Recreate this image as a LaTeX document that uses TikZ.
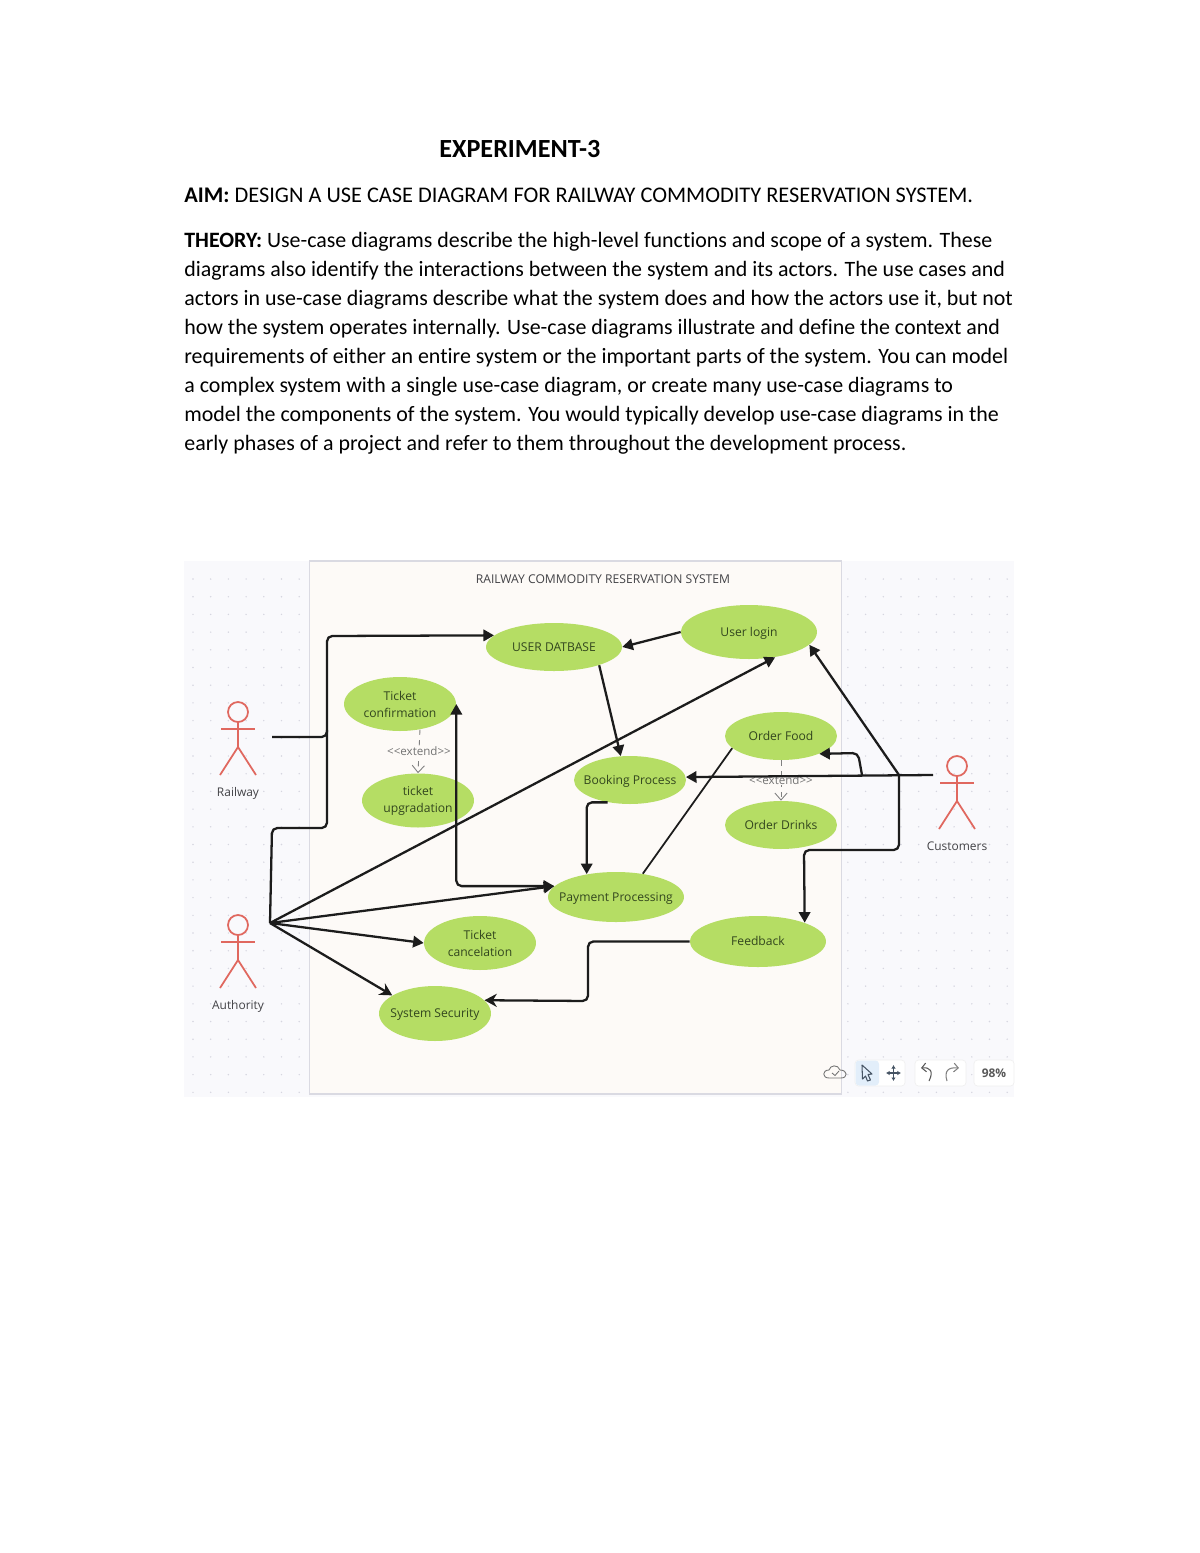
\documentclass[tikz,border=0pt]{standalone}
\usepackage{fontspec}
\setmainfont[Ligatures=NoCommon]{Carlito}
\newfontfamily\diagfont{Open Sans}
\usetikzlibrary{positioning, arrows.meta, calc, shapes.geometric}
\definecolor{ucgreen}{RGB}{181,221,100}
\definecolor{uctext}{RGB}{50,70,30}
\definecolor{canvasbg}{RGB}{249,249,252}
\definecolor{framebg}{RGB}{253,250,247}
\definecolor{framerule}{RGB}{218,218,226}
\definecolor{griddot}{RGB}{214,214,224}
\definecolor{actorred}{RGB}{224,104,95}
\definecolor{inkgray}{RGB}{66,66,70}
\definecolor{linkblack}{RGB}{28,28,28}
\definecolor{toolblue}{RGB}{226,238,250}
\definecolor{toolink}{RGB}{70,84,100}

\begin{document}
\begin{tikzpicture}[
  x=0.02cm, y=-0.02cm,
  % use case shapes
  usecase/.style={ellipse, fill=ucgreen, inner sep=0pt, minimum width=2.24cm, minimum height=0.96cm,
    align=center, text=uctext, text height=6.6pt, text depth=1.8pt, font=\diagfont\fontsize{6.9}{9.7}\selectfont},
  widecase/.style={usecase, minimum width=2.72cm},
  tightcase/.style={inner xsep=-8pt},
  twoline/.style={usecase, minimum height=1.08cm, text height=, text depth=},
  actorlabel/.style={text=inkgray, inner sep=0pt, font=\diagfont\fontsize{6.8}{9}\selectfont},
  extendlabel/.style={text=black!55, inner sep=0pt, font=\diagfont\fontsize{6.6}{9}\selectfont},
  toolbox/.style={fill=white, draw=black!6, rounded corners=2pt, line width=0.4pt, inner sep=0pt},
  % connector styles
  link/.style={draw=linkblack, line width=1.3pt, rounded corners=3pt, -{Triangle[length=6pt,width=6.5pt]}},
  stealthlink/.style={link, -{Stealth[length=7pt,width=7.5pt]}},
  plainlink/.style={draw=linkblack, line width=1.3pt, rounded corners=3pt},
  extendlink/.style={draw=black!50, line width=0.5pt, dashed, -{Straight Barb[length=4pt,width=7pt]}},
  actorline/.style={draw=actorred, line width=1pt},
  actor/.pic={
    \draw[actorline] (0,0) circle (10);
    \draw[actorline] (0,10) -- (0,35) -- (-18,63);
    \draw[actorline] (0,35) -- (18,63);
    \draw[actorline] (-17,17) -- (17,17);
  }
]

  \useasboundingbox (0,0) rectangle (1200,1553);
  \fill[white] (0,0) rectangle (1200,1553);

  % ==========================================
  % PAGE TEXT
  % ==========================================
  \node[anchor=base west, inner sep=0pt, font=\fontsize{14.9}{18}\selectfont\bfseries] (title) at (439,157) {EXPERIMENT-3};

  \node[anchor=base west, inner sep=0pt, font=\fontsize{12.72}{16}\selectfont] (aim) at (184,202) {%
    \textbf{AIM:} DESIGN A USE CASE DIAGRAM FOR RAILWAY COMMODITY RESERVATION SYSTEM.};

  \node[anchor=north west, inner sep=0pt, align=left, font=\fontsize{12.48}{16.5}\selectfont] (theory) at (184,232) {%
    \textbf{THEORY:} Use-case diagrams describe the high-level functions and scope of a system. These\\
    diagrams also identify the interactions between the system and its actors. The use cases and\\
    actors in use-case diagrams describe what the system does and how the actors use it, but not\\
    how the system operates internally. Use-case diagrams illustrate and define the context and\\
    requirements of either an entire system or the important parts of the system. You can model\\
    a complex system with a single use-case diagram, or create many use-case diagrams to\\
    model the components of the system. You would typically develop use-case diagrams in the\\
    early phases of a project and refer to them throughout the development process.};

  % ==========================================
  % CANVAS AND SYSTEM FRAME
  % ==========================================
  \fill[canvasbg] (184,561) rectangle (1014,1097);
  \foreach \px in {193,210.7,...,1014}
    \foreach \py in {579,596.7,...,1097}
      \fill[griddot] (\px,\py) circle (0.8);
  \filldraw[fill=framebg, draw=framerule, line width=1pt] (309.5,561) rectangle (841.5,1094);

  \node[text=inkgray, inner sep=0pt, font=\diagfont\fontsize{6.9}{9}\selectfont] (sysname) at (603,579) {RAILWAY COMMODITY RESERVATION SYSTEM};

  % ==========================================
  % USE CASES
  % ==========================================
  \node[widecase] (userdb) at (554,647) {USER DATBASE};
  \node[widecase, minimum height=1.08cm] (login) at (749,632) {User login};
  \node[twoline] (confirm) at (400,704) {Ticket\\confirmation};
  \node[twoline] (upgrade) at (418,800.5) {ticket\\upgradation};
  \node[usecase, tightcase] (booking) at (630,780) {Booking Process};
  \node[usecase] (food) at (781,736) {Order Food};
  \node[usecase] (drinks) at (781,825) {Order Drinks};
  \node[widecase, tightcase, minimum height=1cm] (payment) at (616,897) {Payment Processing};
  \node[widecase, minimum height=1.02cm] (feedback) at (758,941.5) {Feedback};
  \node[twoline] (cancel) at (480,943) {Ticket\\cancelation};
  \node[usecase, tightcase, minimum height=1.1cm] (security) at (435,1013.5) {System Security};

  % ==========================================
  % ACTORS
  % ==========================================
  \pic at (238,712) {actor};
  \node[actorlabel] (railway) at (238,793) {Railway};
  \pic at (238,925) {actor};
  \node[actorlabel] (authority) at (238,1006) {Authority};
  \pic at (957,766) {actor};
  \node[actorlabel] (customers) at (957,846) {Customers};

  \coordinate (rail_out) at (272,737);
  \coordinate (rail_turn) at (327,636);
  \coordinate (auth_out) at (270,923);
  \coordinate (auth_bus) at (272,828);
  \coordinate (cust_out) at (933,775);
  \coordinate (cust_hub) at (899,775);
  \coordinate (cust_food) at (862,775);
  \coordinate (feed_turn) at (804,850);
  \coordinate (sec_turn) at (588,1001);

  % ==========================================
  % EXTEND LINKS
  % ==========================================
  \draw[extendlink] (confirm.-52) -- node[extendlabel, fill=framebg, pos=0.5] (ext_ticket) {<<extend>>} (upgrade.north);
  \draw[extendlink] (food.south) -- node[extendlabel, fill=framebg, pos=0.5] (ext_food) {<<extend>>} (drinks.north);

  % ==========================================
  % RAILWAY AND AUTHORITY LINKS
  % ==========================================
  \draw[link] (rail_out) -| (rail_turn) -- (userdb.169);
  \draw[plainlink] (auth_out) -- (auth_bus) -- (327,828) -- (327,730);
  \draw[link] (auth_out) -- (login.-44);
  \draw[link] (auth_out) -- (payment.170);
  \draw[link] (auth_out) -- (cancel.west);
  \draw[stealthlink] (auth_out) -- (security.157);

  % ==========================================
  % INTERNAL LINKS
  % ==========================================
  \draw[link] (login.west) -- (userdb.east);
  \draw[link] (userdb.-22) -- (booking.111);
  \draw[link] (booking.-135) -| (payment.142);
  \draw[link, {Triangle[length=6pt,width=6.5pt]}-{Triangle[length=6pt,width=6.5pt]}] (payment.170) -| (confirm.east);
  \draw[plainlink, line width=1pt] (payment.41) -- (food.194);
  \draw[stealthlink] (feedback.west) -| (sec_turn) -- (security.15);

  % ==========================================
  % CUSTOMER LINKS
  % ==========================================
  \draw[link] (cust_out) -- (booking.3);
  \draw[link] (cust_food) -- ++(-4,-22) -- (food.-25);
  \draw[link] (cust_hub) -- (login.-12);
  \draw[link] (cust_hub) |- (feed_turn) -- (feedback.22);

  % ==========================================
  % TOOLBAR
  % ==========================================
  \node[toolbox, minimum width=1cm, minimum height=0.52cm] (tool_pick) at (880,1073) {};
  \fill[toolblue, rounded corners=2pt] (855.5,1060.5) rectangle (879,1085.5);
  \node[toolbox, minimum width=1.02cm, minimum height=0.52cm] (tool_undo) at (940.5,1073) {};
  \node[toolbox, minimum width=0.8cm, minimum height=0.52cm, font=\diagfont\bfseries\fontsize{6.8}{9}\selectfont, text=black!65] (tool_zoom) at (994,1073) {98\%};

  \draw[toolink, line width=0.6pt, line join=round] (862,1065) -- (872,1074) -- (868,1074.5) -- (870.5,1080) -- (867.5,1081) -- (865.5,1076) -- (862.5,1079) -- cycle;
  \draw[toolink, line width=0.7pt, <->, >={Latex[length=2pt,width=2.5pt]}] (886,1073) -- (901,1073);
  \draw[toolink, line width=0.7pt, <->, >={Latex[length=2pt,width=2.5pt]}] (893.5,1065) -- (893.5,1081);
  \draw[black!65, line width=0.6pt, -{Straight Barb[length=2.5pt,width=5pt]}] (929,1081) .. controls (934,1071) and (930,1067) .. (921,1068);
  \draw[black!50, line width=0.6pt, -{Straight Barb[length=2.5pt,width=5pt]}] (947,1081) .. controls (944,1071) and (948,1067) .. (959,1068);
  \draw[black!55, line width=0.5pt] (829,1078) .. controls (822,1078) and (822,1070) .. (829,1070) .. controls (830,1065) and (838,1064) .. (840,1070) .. controls (848,1070) and (848,1078) .. (841,1078) -- cycle;
  \draw[black!55, line width=0.5pt] (832,1073) -- (835,1075.5) -- (839,1071);

\end{tikzpicture}
\end{document}
